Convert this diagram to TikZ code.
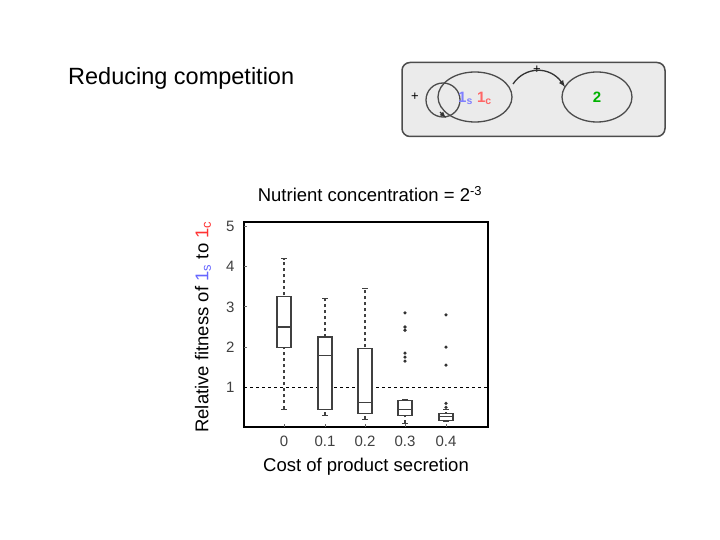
\documentclass[tikz,border=0pt]{standalone}
\usepackage{fontspec}
\usetikzlibrary{shapes.geometric}
\setmainfont{Liberation Sans}
\begin{document}
\begin{tikzpicture}[x=1pt,y=-1pt,
  lab/.style={font=\fontsize{18.5}{20}\selectfont},
  tick/.style={font=\fontsize{15}{17}\selectfont,text=black!75},
  bx/.style={draw=black!75,line width=1.2pt},
  wh/.style={draw=black!75,dashed,line width=1.1pt},
  outl/.style={fill=black!80}]
\useasboundingbox (0,0) rectangle (720,540);
\node[anchor=west,font=\fontsize{23.5}{26}\selectfont,inner sep=0] (title) at (68,78) {Reducing competition};
% top diagram
\node[draw=black!70,fill=black!8,rounded corners=8pt,line width=1.5pt,minimum width=263,minimum height=74] (panel) at (533.5,99.5) {};
\node[draw=black!70,line width=1.3pt,circle,minimum size=34] (loop) at (443,100) {};
\node[draw=black!70,line width=1.3pt,ellipse,minimum width=74,minimum height=50,inner sep=0] (e1) at (475,97) {};
\node[draw=black!70,line width=1.3pt,ellipse,minimum width=70,minimum height=50,inner sep=0] (e2) at (597,97) {};
\node[font=\fontsize{15}{17}\selectfont\bfseries] (l1) at (475,98) {\textcolor{blue!50}{1\textsubscript{s}} \textcolor{red!60}{1\textsubscript{c}}};
\node[font=\fontsize{15}{17}\selectfont\bfseries,text=green!70!black] (l2) at (597,97) {2};
\node[font=\fontsize{13}{14}\selectfont] (p1) at (415,97) {+};
\node[font=\fontsize{13}{14}\selectfont] (p2) at (537,70) {+};
\coordinate (a1) at (513,84);
\coordinate (a2) at (565,87);
\draw[black!80,line width=1.3pt,-latex] (a1) .. controls (525,66) and (550,66) .. (a2);
\coordinate (b1) at (446,118);
\draw[black!80,-latex,line width=1.2pt] (440,112) -- (b1);
% plot
\node[anchor=base,lab] (ptitle) at (370,202) {Nutrient concentration = 2\textsuperscript{-3}};
\draw[line width=1.4pt] (244,222) rectangle (488,427);
\foreach \v in {1,2,3,4,5}{\node[tick,anchor=east] at (238,{427.5-40.2*\v}) {\v};
  \draw[black!60,line width=1pt] (244,{427.5-40.2*\v}) -- (247,{427.5-40.2*\v});}
\foreach \x/\t in {284/0,325/0.1,365/0.2,405/0.3,446/0.4}{\node[tick] at (\x,441) {\t};
  \draw[black!60,line width=1pt] (\x,427) -- (\x,424);}
\node[lab] (xlab) at (366,467) {Cost of product secretion};
\node[lab,rotate=90] (ylab) at (203,327) {Relative fitness of \textcolor{blue!60}{1\textsubscript{s}} to \textcolor{red!80}{1\textsubscript{c}}};
\draw[dashed,line width=1.1pt] (244,387.3) -- (488,387.3);
\newcommand{\bp}[6]{% x, wlo, q1, med, q3, whi
 \draw[wh] (#1,{427.5-40.2*#2}) -- (#1,{427.5-40.2*#6});
 \draw[bx,fill=white] ({#1-7},{427.5-40.2*#3}) rectangle ({#1+7},{427.5-40.2*#5});
 \draw[bx] ({#1-7},{427.5-40.2*#4}) -- ({#1+7},{427.5-40.2*#4});
 \draw[bx] ({#1-3},{427.5-40.2*#2}) -- ({#1+3},{427.5-40.2*#2});
 \draw[bx] ({#1-3},{427.5-40.2*#6}) -- ({#1+3},{427.5-40.2*#6});}
\bp{284}{0.45}{2}{2.5}{3.25}{4.2}
\bp{325}{0.3}{0.45}{1.8}{2.25}{3.2}
\bp{365}{0.2}{0.35}{0.62}{1.97}{3.45}
\bp{405}{0.1}{0.3}{0.45}{0.68}{0.7}
\bp{446}{0.15}{0.18}{0.27}{0.35}{0.45}
\foreach \v in {2.85,2.5,2.42,1.85,1.75,1.65}{\fill[outl] (405,{427.5-40.2*\v}) circle (1.8);}
\foreach \v in {2.8,2.0,1.55,0.6,0.5}{\fill[outl] (446,{427.5-40.2*\v}) circle (1.8);}
\end{tikzpicture}
\end{document}
